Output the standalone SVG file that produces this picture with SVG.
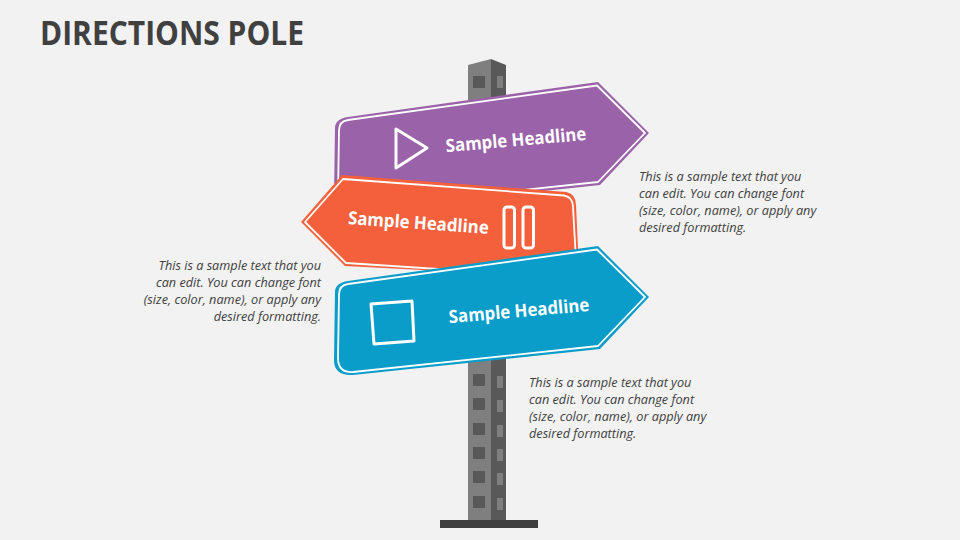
<svg xmlns="http://www.w3.org/2000/svg" width="960" height="540" viewBox="0 0 960 540">
<style>
.t{font-family:"Open Sans","Liberation Sans",sans-serif;font-size:12.7px;font-style:italic;fill:#404040}
.h{font-family:"Open Sans","Liberation Sans",sans-serif;font-size:18px;font-weight:700;fill:#fff;text-anchor:middle}
.i{fill:none;stroke:#fff;stroke-width:1.800;stroke-linejoin:round}
.ic{fill:none;stroke:#fff;stroke-width:3;stroke-linejoin:round}
.pf{fill:#7f7f7f}.ps{fill:#595959}
.r{text-anchor:end}
</style>
<rect width="960" height="540" fill="#f2f2f2"/>
<text x="40" y="45" font-family="'Open Sans','Liberation Sans',sans-serif" font-size="33.500" font-weight="700" fill="#404040" textLength="264" lengthAdjust="spacingAndGlyphs">DIRECTIONS POLE</text>
<g id="pole">
<path class="pf" d="M468 65L491 59V520H468Z"/>
<path class="ps" d="M491 59L506 65V520H491Z"/>
<rect class="ps" x="473" y="76" width="12" height="12"/>
<rect class="pf" x="497" y="76" width="6" height="12"/>
<g class="ps"><rect x="473" y="374" width="12" height="12"/><rect x="473" y="398" width="12" height="12"/><rect x="473" y="423" width="12" height="12"/><rect x="473" y="447" width="12" height="12"/><rect x="473" y="471" width="12" height="12"/><rect x="473" y="496" width="12" height="12"/></g>
<g class="pf"><rect x="497" y="376" width="6" height="12"/><rect x="497" y="400" width="6" height="12"/><rect x="497" y="425" width="6" height="12"/><rect x="497" y="449" width="6" height="12"/><rect x="497" y="473" width="6" height="12"/><rect x="497" y="498" width="6" height="12"/></g>
<rect x="440" y="520" width="98" height="8" fill="#3f3f3f"/>
</g>
<g id="sign-purple">
<path fill="#9a62a8" d="M348 117L598 82L649 133L600 185L353 211Q334 213 334 198L335 128Q335 119 348 117Z"/>
<path class="i" d="M348 120L597 85.500L645 133L598 182L353 208Q338 209 338 196L339 131Q339 121 348 120Z"/>
<path class="ic" d="M396 129V168L427 148Z"/>
<text class="h" transform="translate(516.500 146) rotate(-5)" textLength="141" lengthAdjust="spacingAndGlyphs">Sample Headline</text>
</g>
<g id="sign-orange">
<path fill="#f4603c" d="M342 175L566 192Q576 194 576 205L580 290V278L345 266L301 222Z"/>
<path class="i" d="M343 179L564 195.500Q573 197 573 207L577 278L346 263L305 222Z"/>
<rect class="ic" x="504" y="207" width="10.500" height="41" rx="3"/>
<rect class="ic" x="523" y="207" width="10.500" height="41" rx="3"/>
<text class="h" transform="translate(418 229) rotate(4)" textLength="141" lengthAdjust="spacingAndGlyphs">Sample Headline</text>
</g>
<g id="sign-blue">
<path fill="#0a9dc9" d="M348 281L598 246L649 297L600 349L353 375Q334 376 334 360L335 292Q335 283 348 281Z"/>
<path class="i" d="M348 284L597 249.500L645 297L598 346L353 372Q338 373 338 358L339 295Q339 285 348 284Z"/>
<path class="ic" d="M371 304L412 301L414 341L374 344Z"/>
<text class="h" transform="translate(519.500 317) rotate(-5)" textLength="141" lengthAdjust="spacingAndGlyphs">Sample Headline</text>
</g>
<g id="note-1"><text class="t" x="639" y="181">This is a sample text that you</text><text class="t" x="639" y="198">can edit. You can change font</text><text class="t" x="639" y="215">(size, color, name), or apply any</text><text class="t" x="639" y="232">desired formatting.</text></g>
<g id="note-2"><text class="t r" x="321" y="270">This is a sample text that you</text><text class="t r" x="321" y="287">can edit. You can change font</text><text class="t r" x="321" y="304">(size, color, name), or apply any</text><text class="t r" x="321" y="321">desired formatting.</text></g>
<g id="note-3"><text class="t" x="529" y="387">This is a sample text that you</text><text class="t" x="529" y="404">can edit. You can change font</text><text class="t" x="529" y="421">(size, color, name), or apply any</text><text class="t" x="529" y="438">desired formatting.</text></g>
<g id="connectors"/>
</svg>
